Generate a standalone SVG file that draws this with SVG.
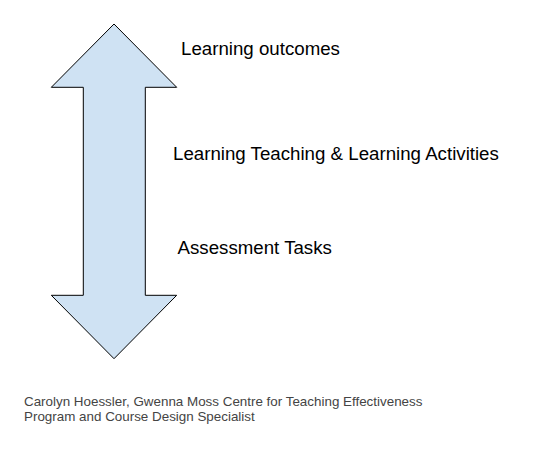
<svg xmlns="http://www.w3.org/2000/svg" width="536" height="473" viewBox="0 0 536 473">
<style>
.lbl{font-family:"Liberation Sans",Arial,sans-serif;font-size:18.7px;fill:#000}
.foot{font-family:"Liberation Sans",Arial,sans-serif;font-size:13.4px;fill:#444}
</style>
<rect width="536" height="473" fill="#fff"/>
<g id="arrow">
<polygon points="114,24 176.7,87.3 145.3,87.3 145.3,295.3 176.7,295.3 114,358.7 51.3,295.3 83.3,295.3 83.3,87.3 51.3,87.3" fill="#cfe2f3" stroke="#000" stroke-width="1"/>
</g>
<g id="label-outcomes"><text class="lbl" x="181" y="55">Learning outcomes</text></g>
<g id="label-activities"><text class="lbl" x="173" y="160">Learning Teaching &amp; Learning Activities</text></g>
<g id="label-assessment"><text class="lbl" x="177.5" y="253.5">Assessment Tasks</text></g>
<g id="footer">
<text class="foot" x="24" y="406">Carolyn Hoessler, Gwenna Moss Centre for Teaching Effectiveness</text>
<text class="foot" x="24" y="421">Program and Course Design Specialist</text>
</g>
</svg>
